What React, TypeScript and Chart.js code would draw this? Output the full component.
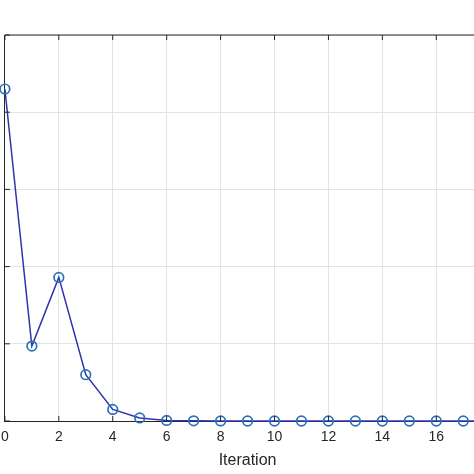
import React, { useEffect, useRef } from 'react';
import { Chart, registerables } from 'chart.js';

Chart.register(...registerables);

const iterations = [0, 1, 2, 3, 4, 5, 6, 7, 8, 9, 10, 11, 12, 13, 14, 15, 16, 17, 18];
const objective = [4.3, 0.97, 1.86, 0.6, 0.15, 0.04, 0.008, 0.002, 0.001, 0, 0, 0, 0, 0, 0, 0, 0, 0, 0];
const xTickStep = 2;
const yRange = [0, 5];

const axisColor = '#262626';

// MATLAB style: frame on top and ticks pointing into the plot
const innerTicks = {
  id: 'innerTicks',
  afterDraw(chart: any) {
    const { ctx, chartArea: a, scales } = chart;
    const len = 5;
    ctx.save();
    ctx.strokeStyle = axisColor;
    ctx.lineWidth = 1;
    ctx.beginPath();
    ctx.moveTo(a.left, a.top);
    ctx.lineTo(a.right, a.top);
    ctx.moveTo(a.right, a.top);
    ctx.lineTo(a.right, a.bottom);
    scales.x.ticks.forEach((t: any) => {
      const px = scales.x.getPixelForValue(t.value);
      ctx.moveTo(px, a.bottom);
      ctx.lineTo(px, a.bottom - len);
      ctx.moveTo(px, a.top);
      ctx.lineTo(px, a.top + len);
    });
    scales.y.ticks.forEach((t: any) => {
      const py = scales.y.getPixelForValue(t.value);
      ctx.moveTo(a.left, py);
      ctx.lineTo(a.left + len, py);
    });
    ctx.stroke();
    ctx.restore();
  },
};

export default function App() {
  const chartRef = useRef<HTMLCanvasElement>(null);
  const chartInstanceRef = useRef<Chart | null>(null);

  useEffect(() => {
    if (!chartRef.current) return;
    const ctx = chartRef.current.getContext('2d');
    if (!ctx) return;

    chartInstanceRef.current = new Chart(ctx, {
      type: 'line',
      data: {
        datasets: [{
          data: iterations.map((it, i) => ({ x: it, y: objective[i] })),
          borderColor: '#3232b0',
          borderWidth: 1.5,
          pointStyle: 'circle',
          pointRadius: 4.8,
          pointBorderWidth: 1.7,
          pointBorderColor: '#2872b6',
          pointBackgroundColor: 'rgba(0,0,0,0)',
          tension: 0,
          clip: false as any,
        }],
      },
      options: {
        responsive: false,
        animation: false,
        layout: { padding: { left: 0, right: 11, top: 35, bottom: 0 } },
        plugins: { legend: { display: false }, tooltip: { enabled: false } },
        scales: {
          x: {
            type: 'linear',
            min: 0,
            max: 18,
            ticks: {
              stepSize: xTickStep,
              color: axisColor,
              padding: 8,
              maxRotation: 0,
              font: { family: 'Liberation Sans', size: 14 },
            },
            grid: { color: '#e3e3e3', drawTicks: false, lineWidth: 1 },
            border: { color: axisColor, width: 1 },
            title: {
              display: true,
              text: 'Iteration',
              color: axisColor,
              padding: { top: 0, bottom: 4 },
              font: { family: 'Liberation Sans', size: 16 },
            },
            afterFit: (s: any) => { s.height = 53; },
          },
          y: {
            min: yRange[0],
            max: yRange[1],
            ticks: { stepSize: 1, display: false },
            grid: { color: '#e3e3e3', drawTicks: false, lineWidth: 1 },
            border: { color: axisColor, width: 1 },
            afterFit: (s: any) => { s.width = 3.5; },
          },
        },
      },
      plugins: [innerTicks],
    });

    return () => {
      if (chartInstanceRef.current) {
        chartInstanceRef.current.destroy();
      }
    };
  }, []);

  return (
    <div style={{ position: 'fixed', left: 0, top: 0, width: 474, height: 474, overflow: 'hidden', background: '#fff' }}>
      <canvas ref={chartRef} width={513} height={474} style={{ position: 'absolute', left: -7.5, top: 0 }}></canvas>
    </div>
  );
}
